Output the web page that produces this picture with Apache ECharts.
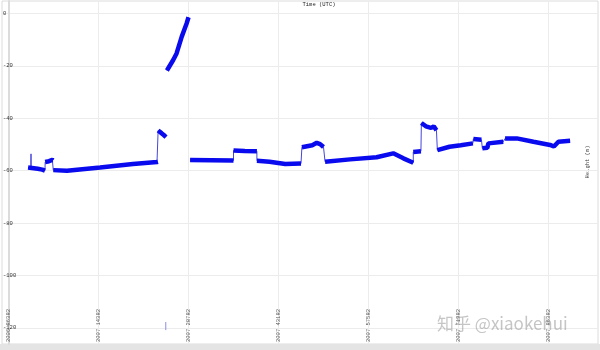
<!DOCTYPE html>
<html>
<head>
<meta charset="utf-8">
<script src="https://cdn.jsdelivr.net/npm/echarts@6/dist/echarts.min.js"></script>
<style>html,body{margin:0;padding:0;background:#fff;}#c{width:600px;height:350px;}</style>
</head>
<body>
<div id="c"></div>
<script>
// x values are hours after the first labelled tick; y values are height (m)
const xTickValues = [0, 4, 8, 12, 16, 20, 24];
const xTickLabels = ['2006 86382', '2007 14382', '2007 28782', '2007 43182', '2007 57582', '2007 71982', '2007 86382'];
const yTickValues = [0, -20, -40, -60, -80, -100, -120];

const seg1 = [[0.87,-58.8],[1.3,-59.3],[1.5,-59.6],[1.62,-60.0]];
const seg2 = [[1.63,-56.7],[1.8,-56.4],[1.95,-55.9],[1.98,-56.1]];
const seg3 = [[1.99,-59.8],[2.6,-60.0],[4.07,-58.8],[5.53,-57.5],[6.6,-56.7],[6.64,-56.6]];
const seg4 = [[6.65,-44.7],[6.8,-45.7],[6.9,-46.4],[7.0,-47.2]];
const seg5 = [[7.04,-21.8],[7.32,-17.8],[7.47,-15.3],[7.7,-8.9],[7.92,-3.8],[8.0,-1.5]];
const seg6 = [[8.07,-55.9],[9.0,-56.0],[10.0,-56.1]];
const seg7 = [[10.0,-52.3],[10.5,-52.5],[11.04,-52.6]];
const seg8 = [[11.04,-56.2],[11.6,-56.6],[12.3,-57.5],[13.0,-57.3]];
const seg9 = [[13.04,-51.1],[13.5,-50.3],[13.7,-49.4],[13.85,-49.9],[14.0,-51.0]];
const seg10 = [[14.07,-56.6],[15.18,-55.7],[16.36,-54.9],[17.1,-53.4],[17.55,-55.3],[17.99,-57.0]];
const seg11 = [[17.99,-52.9],[18.33,-52.6]];
const seg12 = [[18.35,-41.8],[18.55,-43.1],[18.78,-43.7],[18.9,-43.1],[19.02,-44.6]];
const seg13 = [[19.06,-52.2],[19.6,-50.9],[20.1,-50.3],[20.64,-49.6]];
const seg14 = [[20.66,-47.9],[21.02,-48.2]];
const seg15 = [[21.06,-51.5],[21.28,-51.3],[21.33,-49.6],[21.99,-49.0]];
const seg16 = [[22.07,-47.7],[22.59,-47.7],[23.33,-49.0],[24.07,-50.2],[24.24,-50.8],[24.44,-49.0],[24.96,-48.6]];
const spike = [[0.99,-58.9],[1.0,-53.6],[1.01,-58.9]];
const blip = [[6.99,-117.7],[6.99,-120.8]];

const segments = [seg1,seg2,seg3,seg4,seg5,seg6,seg7,seg8,seg9,seg10,seg11,seg12,seg13,seg14,seg15,seg16];
const breakAfter = [3, 4]; // no connecting line after these segment indexes

const gap = ['-', '-'];
const thickData = [];
const thinData = [];
segments.forEach((s, i) => {
  s.forEach(p => { thickData.push(p); thinData.push(p); });
  thickData.push(gap);
  if (breakAfter.indexOf(i) >= 0) thinData.push(gap);
});

const font = 'Liberation Mono';
const chart = echarts.init(document.getElementById('c'), null, {renderer: 'canvas'});
chart.setOption({
  animation: false,
  backgroundColor: '#fff',
  grid: {left: 2, right: 2, top: 1, bottom: 6, containLabel: false, show: true, borderColor: '#dcdcdc', borderWidth: 1},
  xAxis: {
    type: 'value', min: -0.289, max: 26.2,
    axisLine: {show: false},
    axisTick: {show: false, customValues: xTickValues},
    splitLine: {show: true, lineStyle: {color: '#ececec', width: 1}},
    axisLabel: {
      customValues: xTickValues,
      inside: true, rotate: 90, margin: 2,
      fontFamily: font, fontSize: 5.5, color: '#555',
      padding: [0, 0, 4, 0],
      formatter: v => xTickLabels[xTickValues.indexOf(Math.round(v))] || ''
    }
  },
  yAxis: {
    type: 'value', min: -126.1, max: 4.69,
    axisLine: {show: true, lineStyle: {color: '#dcdcdc', width: 2}},
    axisTick: {show: false, customValues: yTickValues},
    splitLine: {show: true, lineStyle: {color: '#ececec', width: 1}},
    axisLabel: {
      customValues: yTickValues,
      inside: true, margin: 1, align: 'left',
      fontFamily: font, fontSize: 5.5, color: '#333',
      padding: [0, 0, 4, 0]
    }
  },
  graphic: [
    {type: 'rect', shape: {x: 0, y: 344, width: 600, height: 6}, style: {fill: '#e4e4e4'}, silent: true},
    {type: 'text', x: 319, y: 4.5, style: {text: 'Time (UTC)', font: '5.5px "Liberation Mono"', fill: '#222', align: 'center', verticalAlign: 'middle'}},
    {type: 'text', x: 588, y: 162, rotation: Math.PI / 2, style: {text: 'Height (m)', font: '5.5px "Liberation Mono"', fill: '#444', align: 'center', verticalAlign: 'middle'}},
    {type: 'text', x: 437, y: 324, z: 100, style: {text: '知乎 @xiaokehui', font: '17px "Noto Sans CJK SC"', fill: 'rgba(150,150,150,0.55)', align: 'left', verticalAlign: 'middle'}}
  ],
  series: [
    {type: 'line', data: thinData, showSymbol: false, connectNulls: false, lineStyle: {color: '#4646dc', width: 1}, z: 2},
    {type: 'line', data: thickData, showSymbol: false, connectNulls: false, lineStyle: {color: '#0a0aee', width: 4.5}, z: 3},
    {type: 'line', data: spike, showSymbol: false, lineStyle: {color: '#4646dc', width: 1}, z: 2},
    {type: 'line', data: blip, showSymbol: false, lineStyle: {color: '#8c8ce6', width: 1}, z: 2}
  ]
});
</script>
</body>
</html>
